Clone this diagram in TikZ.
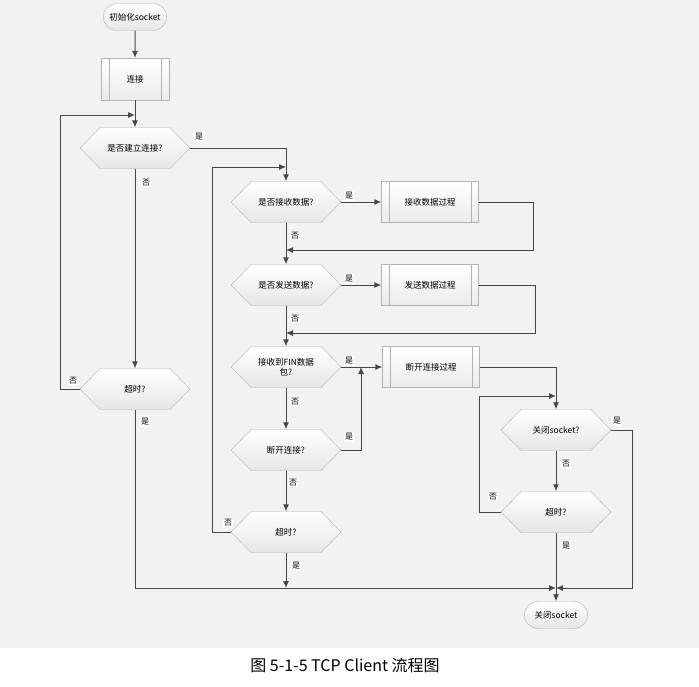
\documentclass[tikz,border=0pt]{standalone}
\usepackage{fontspec}
\setmainfont{Noto Sans CJK SC}
\usetikzlibrary{shapes.misc,arrows.meta}
\newcommand{\hexnode}[4]{%
  \shade[draw=black!30,top color=white,bottom color=black!10] (#2-55,#3) -- (#2-35,#3-20.5) -- (#2+35,#3-20.5) -- (#2+55,#3) -- (#2+35,#3+20.5) -- (#2-35,#3+20.5) -- cycle;
  \node[minimum width=110pt,minimum height=41pt,inner sep=0pt,font=\fontsize{8.5}{10}\selectfont,align=center] (#1) at (#2,#3) {#4};}
\begin{document}
\begin{tikzpicture}[x=1pt,y=-1pt,
  ln/.style={draw=black!72,line width=1pt},
  ar/.style={ln,-{Latex[length=7pt,width=6pt]}},
  proc/.style={rectangle,minimum width=97pt,minimum height=41pt,draw=black!30,top color=white,bottom color=black!8,font=\fontsize{8.5}{10}\selectfont},
  term/.style={rounded rectangle,minimum width=70pt,minimum height=27pt,draw=black!30,top color=white,bottom color=black!10,font=\fontsize{8.5}{10}\selectfont},
  lab/.style={fill=white,inner sep=1pt,font=\fontsize{8}{9}\selectfont}]
\fill[black!5] (0,0) rectangle (699,648);
\fill[white] (0,648) rectangle (699,686);
\node[term] (init) at (135,17) {初始化socket};
\node[proc,minimum width=68pt,minimum height=42pt] (conn) at (135,79) {连接};
\draw[black!30] (109,58)--(109,100) (161,58)--(161,100);
\hexnode{h1}{135}{148}{是否建立连接?}
\hexnode{t1}{135}{389}{超时?}
\hexnode{h2}{286}{202}{是否接收数据?}
\node[proc] (p2) at (430,202) {接收数据过程};
\hexnode{h3}{286}{285}{是否发送数据?}
\node[proc] (p3) at (430,285) {发送数据过程};
\hexnode{h4}{286}{367}{接收到FIN数据\\包?}
\node[proc] (p4) at (431,367) {断开连接过程};
\hexnode{h5}{286}{450}{断开连接?}
\hexnode{h6}{286}{532}{超时?}
\hexnode{c1}{556}{430}{关闭socket?}
\hexnode{c2}{556}{512}{超时?}
\node[term] (end) at (556,615) {关闭socket};
\foreach \x in {p2,p3,p4}{\draw[black!30] ([xshift=8pt]\x.north west)--([xshift=8pt]\x.south west) ([xshift=-8pt]\x.north east)--([xshift=-8pt]\x.south east);}
\coordinate (j1) at (135,115);
\coordinate (j2) at (286,167);
\coordinate (j3) at (286,250);
\coordinate (j4) at (286,333);
\coordinate (j5) at (361,367);
\coordinate (j6) at (556,396);
\coordinate (b1) at (286,588);
\coordinate (b2) at (556,588);
\draw[ar] (init)--(conn);
\draw[ar] (conn)--(h1);
\draw[ar] (t1.west) -- (60,389) |- (j1);
\draw[ar] (h1.east) -| (h2.north);
\draw[ar] (h1.south)--(t1.north);
\draw[ln] (t1.south) |- (b1);
\draw[ar] (b1) -- (b2);
\draw[ar] (h2)--(p2);
\draw[ar] (p2.east) -- (533,202) |- (j3);
\draw[ar] (h2)--(h3);
\draw[ar] (h3)--(p3);
\draw[ar] (p3.east) -- (535,285) |- (j4);
\draw[ar] (h3)--(h4);
\draw[ar] (h4)--(p4);
\draw[ar] (p4.east) -| (c1.north);
\draw[ar] (h4)--(h5);
\draw[ar] (h5.east) -| (j5);
\draw[ar] (h5)--(h6);
\draw[ar] (h6.west) -- (212,532) |- (j2);
\draw[ar] (h6)--(b1);
\draw[ar] (c1)--(c2);
\draw[ar] (c2.west) -- (479,512) |- (j6);
\draw[ar] (c1.east) -- (632,430) |- (b2);
\draw[ar] (c2.south)--(end.north);
\node[lab] at (199,137) {是};
\node[lab] at (146,183) {否};
\node[lab] at (73,381) {否};
\node[lab] at (145,422) {是};
\node[lab] at (349,196) {是};
\node[lab] at (295,236) {否};
\node[lab] at (349,279) {是};
\node[lab] at (295,319) {否};
\node[lab] at (349,361) {是};
\node[lab] at (295,402) {否};
\node[lab] at (349,437) {是};
\node[lab] at (293,483) {否};
\node[lab] at (228,523) {否};
\node[lab] at (296,566) {是};
\node[lab] at (617,421) {是};
\node[lab] at (566,464) {否};
\node[lab] at (493,497) {否};
\node[lab] at (566,546) {是};
\node[font=\fontsize{16}{18}\selectfont] at (345,665) {图 5-1-5 TCP Client 流程图};
\end{tikzpicture}
\end{document}
